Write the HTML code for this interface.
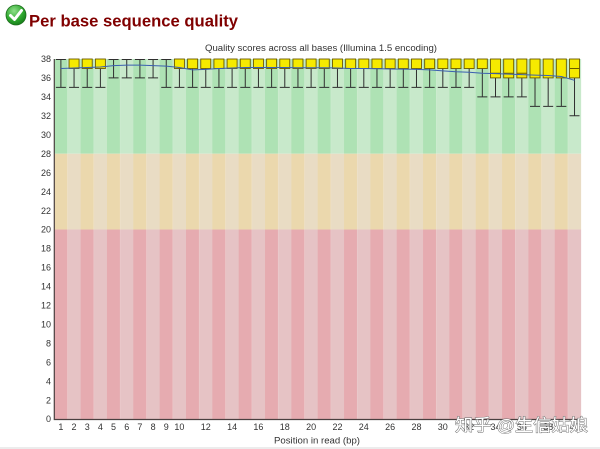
<!DOCTYPE html>
<html><head><meta charset="utf-8"><style>
html,body{margin:0;padding:0;background:#fff;width:600px;height:449px;overflow:hidden}
svg{display:block}
</style></head><body>
<svg width="600" height="449" viewBox="0 0 600 449" xmlns="http://www.w3.org/2000/svg">
<defs>
<pattern id="pg" x="54.3" y="0" width="26.34" height="449" patternUnits="userSpaceOnUse"><rect x="0" y="0" width="13.17" height="449" fill="#aee2b4"/><rect x="13.17" y="0" width="13.17" height="449" fill="#c8e9cb"/></pattern>
<pattern id="po" x="54.3" y="0" width="26.34" height="449" patternUnits="userSpaceOnUse"><rect x="0" y="0" width="13.17" height="449" fill="#ebd8ad"/><rect x="13.17" y="0" width="13.17" height="449" fill="#e9dcc4"/></pattern>
<pattern id="pr" x="54.3" y="0" width="26.34" height="449" patternUnits="userSpaceOnUse"><rect x="0" y="0" width="13.17" height="449" fill="#e6abb0"/><rect x="13.17" y="0" width="13.17" height="449" fill="#e6c3c5"/></pattern>
<radialGradient id="cg" cx="0.4" cy="0.3" r="0.75"><stop offset="0" stop-color="#8fe08a"/><stop offset="0.6" stop-color="#2fa82f"/><stop offset="1" stop-color="#137a17"/></radialGradient>
</defs>
<rect width="600" height="449" fill="#fff"/>
<!-- header -->
<circle cx="16" cy="15" r="10" fill="url(#cg)" stroke="#1d6e1d" stroke-width="0.8"/>
<path d="M10.5 15.5 L14.5 19.5 L21.5 10.5" fill="none" stroke="#fff" stroke-width="3" stroke-linecap="round" stroke-linejoin="round"/>
<text x="29" y="26.5" font-family="Liberation Sans, Arial, sans-serif" font-weight="bold" font-size="16.5" fill="#800000" textLength="209" lengthAdjust="spacingAndGlyphs">Per base sequence quality</text>
<!-- chart title -->
<text x="205" y="51" font-family="Liberation Sans, sans-serif" font-size="9" fill="#333" textLength="232" lengthAdjust="spacingAndGlyphs">Quality scores across all bases (Illumina 1.5 encoding)</text>
<!-- backgrounds -->
<rect x="54.3" y="59" width="526.8" height="94.73" fill="url(#pg)"/>
<rect x="54.3" y="153.73" width="526.8" height="75.79" fill="url(#po)"/>
<rect x="54.3" y="229.52" width="526.8" height="189.48" fill="url(#pr)"/>
<!-- whiskers -->
<path fill="none" stroke="#2f2f2f" stroke-width="1" d="
M55.89,87.4h10m-5,0V59.5m-5,0h10
M69.06,87.4h10m-5,0V59.5
M82.23,87.4h10m-5,0V59.5
M95.40,87.4h10m-5,0V59.5
M108.57,77.9h10m-5,0V59.5m-5,0h10
M121.74,77.9h10m-5,0V59.5m-5,0h10
M134.91,77.9h10m-5,0V59.5m-5,0h10
M148.08,77.9h10m-5,0V59.5m-5,0h10
M161.25,87.4h10m-5,0V59.5m-5,0h10
M174.42,87.4h10m-5,0V59.5
M187.59,87.4h10m-5,0V59.5
M200.76,87.4h10m-5,0V59.5
M213.93,87.4h10m-5,0V59.5
M227.10,87.4h10m-5,0V59.5
M240.27,87.4h10m-5,0V59.5
M253.44,87.4h10m-5,0V59.5
M266.61,87.4h10m-5,0V59.5
M279.78,87.4h10m-5,0V59.5
M292.95,87.4h10m-5,0V59.5
M306.12,87.4h10m-5,0V59.5
M319.29,87.4h10m-5,0V59.5
M332.46,87.4h10m-5,0V59.5
M345.63,87.4h10m-5,0V59.5
M358.80,87.4h10m-5,0V59.5
M371.97,87.4h10m-5,0V59.5
M385.14,87.4h10m-5,0V59.5
M398.31,87.4h10m-5,0V59.5
M411.48,87.4h10m-5,0V59.5
M424.65,87.4h10m-5,0V59.5
M437.82,87.4h10m-5,0V59.5
M450.99,87.4h10m-5,0V59.5
M464.16,87.4h10m-5,0V59.5
M477.33,96.9h10m-5,0V59.5
M490.50,96.9h10m-5,0V59.5
M503.67,96.9h10m-5,0V59.5
M516.84,96.9h10m-5,0V59.5
M530.01,106.4h10m-5,0V59.5
M543.18,106.4h10m-5,0V59.5
M556.35,106.4h10m-5,0V59.5
M569.52,115.8h10m-5,0V59.5
"/>
<!-- boxes -->
<g fill="#f6ea00" stroke="#6b5a00" stroke-width="0.9">
<rect x="69.06" y="59" width="10" height="9.5"/>
<rect x="82.23" y="59" width="10" height="9.5"/>
<rect x="95.40" y="59" width="10" height="9.5"/>
<rect x="174.42" y="59" width="10" height="9.5"/>
<rect x="187.59" y="59" width="10" height="9.5"/>
<rect x="200.76" y="59" width="10" height="9.5"/>
<rect x="213.93" y="59" width="10" height="9.5"/>
<rect x="227.10" y="59" width="10" height="9.5"/>
<rect x="240.27" y="59" width="10" height="9.5"/>
<rect x="253.44" y="59" width="10" height="9.5"/>
<rect x="266.61" y="59" width="10" height="9.5"/>
<rect x="279.78" y="59" width="10" height="9.5"/>
<rect x="292.95" y="59" width="10" height="9.5"/>
<rect x="306.12" y="59" width="10" height="9.5"/>
<rect x="319.29" y="59" width="10" height="9.5"/>
<rect x="332.46" y="59" width="10" height="9.5"/>
<rect x="345.63" y="59" width="10" height="9.5"/>
<rect x="358.80" y="59" width="10" height="9.5"/>
<rect x="371.97" y="59" width="10" height="9.5"/>
<rect x="385.14" y="59" width="10" height="9.5"/>
<rect x="398.31" y="59" width="10" height="9.5"/>
<rect x="411.48" y="59" width="10" height="9.5"/>
<rect x="424.65" y="59" width="10" height="9.5"/>
<rect x="437.82" y="59" width="10" height="9.5"/>
<rect x="450.99" y="59" width="10" height="9.5"/>
<rect x="464.16" y="59" width="10" height="9.5"/>
<rect x="477.33" y="59" width="10" height="9.5"/>
<rect x="490.50" y="59" width="10" height="18.9"/>
<rect x="503.67" y="59" width="10" height="18.9"/>
<rect x="516.84" y="59" width="10" height="18.9"/>
<rect x="530.01" y="59" width="10" height="18.9"/>
<rect x="543.18" y="59" width="10" height="18.9"/>
<rect x="556.35" y="59" width="10" height="18.9"/>
<rect x="569.52" y="59" width="10" height="18.9"/>
</g>
<path fill="none" stroke="#6b5a00" stroke-width="1" d="M490.5,73.2h10M503.67,73.2h10M516.84,73.2h10M569.52,68.5h10"/>
<!-- mean line -->
<polyline fill="none" stroke="#3a5fb0" stroke-width="1" points="60.89,68.46 74.06,67.99 87.23,67.51 100.40,67.04 113.57,65.62 126.74,65.15 139.91,65.15 153.08,65.62 166.25,66.09 179.42,67.51 192.59,69.88 205.76,69.41 218.93,68.46 232.10,67.99 245.27,67.51 258.44,67.51 271.61,67.51 284.78,67.51 297.95,67.75 311.12,67.75 324.29,67.75 337.46,67.99 350.63,68.46 363.80,68.46 376.97,68.7 390.14,68.94 403.31,69.18 416.48,69.41 429.65,69.88 442.82,70.83 455.99,71.78 469.16,72.25 482.33,73.20 495.50,73.67 508.67,74.14 521.84,74.62 535.01,75.09 548.18,75.56 561.35,76.51 574.52,80.30"/>
<!-- axes -->
<path fill="none" stroke="#4a4040" stroke-width="1.2" d="M54.3,59V419.5H581"/>
<!-- y labels -->
<g font-family="Liberation Sans, sans-serif" font-size="9" fill="#333" text-anchor="end">
<text x="51" y="422.2">0</text>
<text x="51" y="403.3">2</text>
<text x="51" y="384.3">4</text>
<text x="51" y="365.4">6</text>
<text x="51" y="346.4">8</text>
<text x="51" y="327.5">10</text>
<text x="51" y="308.5">12</text>
<text x="51" y="289.6">14</text>
<text x="51" y="270.6">16</text>
<text x="51" y="251.7">18</text>
<text x="51" y="232.7">20</text>
<text x="51" y="213.8">22</text>
<text x="51" y="194.8">24</text>
<text x="51" y="175.9">26</text>
<text x="51" y="156.9">28</text>
<text x="51" y="138.0">30</text>
<text x="51" y="119.0">32</text>
<text x="51" y="100.1">34</text>
<text x="51" y="81.1">36</text>
<text x="51" y="62.2">38</text>
</g>
<!-- x labels -->
<g font-family="Liberation Sans, sans-serif" font-size="9" fill="#333" text-anchor="middle">
<text x="60.89" y="430">1</text>
<text x="74.06" y="430">2</text>
<text x="87.23" y="430">3</text>
<text x="100.40" y="430">4</text>
<text x="113.57" y="430">5</text>
<text x="126.74" y="430">6</text>
<text x="139.91" y="430">7</text>
<text x="153.08" y="430">8</text>
<text x="166.25" y="430">9</text>
<text x="179.42" y="430">10</text>
<text x="205.76" y="430">12</text>
<text x="232.10" y="430">14</text>
<text x="258.44" y="430">16</text>
<text x="284.78" y="430">18</text>
<text x="311.12" y="430">20</text>
<text x="337.46" y="430">22</text>
<text x="363.80" y="430">24</text>
<text x="390.14" y="430">26</text>
<text x="416.48" y="430">28</text>
<text x="442.82" y="430">30</text>
<text x="469.16" y="430">32</text>
<text x="495.50" y="430">34</text>
<text x="521.84" y="430">36</text>
<text x="548.18" y="430">38</text>
<text x="574.52" y="430">40</text>
</g>
<text x="274" y="443.5" font-family="Liberation Sans, sans-serif" font-size="9" fill="#333" textLength="86" lengthAdjust="spacingAndGlyphs">Position in read (bp)</text>
<!-- watermark -->
<text x="455" y="431" font-family="Liberation Sans, 'Noto Sans CJK SC', sans-serif" font-size="17" fill="#fff" stroke="#6a6a6a" stroke-width="0.9" paint-order="stroke" textLength="133" lengthAdjust="spacingAndGlyphs">知乎 @生信姑娘</text>
<rect x="0" y="447" width="600" height="2" fill="#ececec"/>
</svg>
</body></html>
